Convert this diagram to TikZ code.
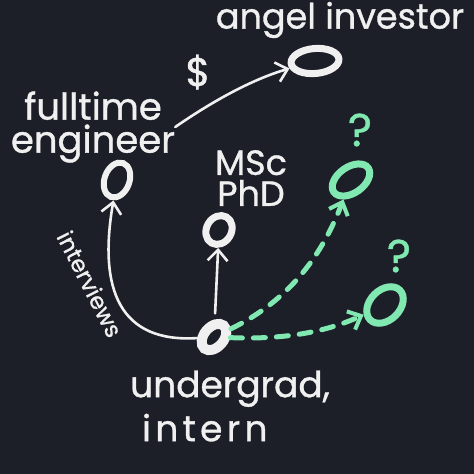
\documentclass[tikz,border=0pt]{standalone}
\usepackage{fontspec}
\setsansfont{Poppins}[FakeBold=1]
\usetikzlibrary{shapes.geometric,arrows.meta}
\definecolor{board}{HTML}{1C1E28}
\definecolor{chalk}{HTML}{F0F0F0}
\definecolor{mint}{HTML}{80E8B0}
\begin{document}
\begin{tikzpicture}[x=1pt,y=-1pt,
  every node/.style={font=\sffamily},
  spot/.style={draw=chalk,ellipse,inner sep=0pt,line width=7pt},
  hope/.style={spot,draw=mint},
  word/.style={text=chalk,font=\sffamily\fontsize{35}{33}\selectfont,align=center,inner sep=0pt},
  move/.style={draw=chalk,line width=2.6pt,line cap=round,-{Straight Barb[length=11pt,width=20pt,line width=2.6pt]}},
  guess/.style={draw=mint,line width=5pt,line cap=round,dash pattern=on 12pt off 11pt,-{Straight Barb[length=11pt,width=20pt,line width=4pt]}}]
  \fill[board] (0,0) rectangle (474,474);
  % career states
  \node[spot,minimum width=48pt,minimum height=25pt,rotate=5] (angel) at (315,61) {};
  \node[spot,minimum width=36pt,minimum height=25pt,rotate=70,line width=6pt] (engineer) at (117,180) {};
  \node[spot,minimum width=30pt,minimum height=25pt,rotate=60] (degree) at (219,230) {};
  \node[spot,minimum width=30pt,minimum height=20pt,rotate=50,line width=10pt] (intern) at (214,337) {};
  \node[hope,minimum width=42pt,minimum height=26pt,rotate=35] (unknownA) at (351,180) {};
  \node[hope,minimum width=42pt,minimum height=30pt,rotate=45] (unknownB) at (385,305) {};
  % labels
  \node[word] (angeltxt) at (340,20) {angel investor};
  \node[word,font=\sffamily\fontsize{37}{33}\selectfont] (englabel) at (93,127) {fulltime\\engineer};
  \node[word,font=\sffamily\fontsize{35}{31}\selectfont] (degtxt) at (251,178) {MSc\\PhD};
  \node[word,align=left,font=\sffamily\fontsize{36}{44}\selectfont] (interntxt) at (230,406) {undergrad,\\\hspace*{12pt}\addfontfeature{LetterSpace=12}intern};
  \node[word,font=\sffamily\fontsize{40}{40}\selectfont] (cash) at (198,72) {\$};
  \node[word,text=mint,font=\sffamily\fontsize{46}{46}\selectfont] (askA) at (360,130) {?};
  \node[word,text=mint,font=\sffamily\fontsize{46}{46}\selectfont] (askB) at (399,256) {?};
  \node[word,font=\sffamily\fontsize{23}{23}\selectfont,rotate=-63] (itvtxt) at (90,284) {interviews};
  % moves
  \draw[move] (englabel.east) .. controls (210,103) and (250,80) .. (angel);
  \draw[move] (intern) .. controls (120,343) and (98,290) .. (engineer);
  \draw[move,shorten <=6pt] (intern) -- (degree);
  \draw[guess] (intern) .. controls (290,300) and (322,255) .. (unknownA);
  \draw[guess] (intern) .. controls (290,340) and (330,330) .. (unknownB);
\end{tikzpicture}
\end{document}
